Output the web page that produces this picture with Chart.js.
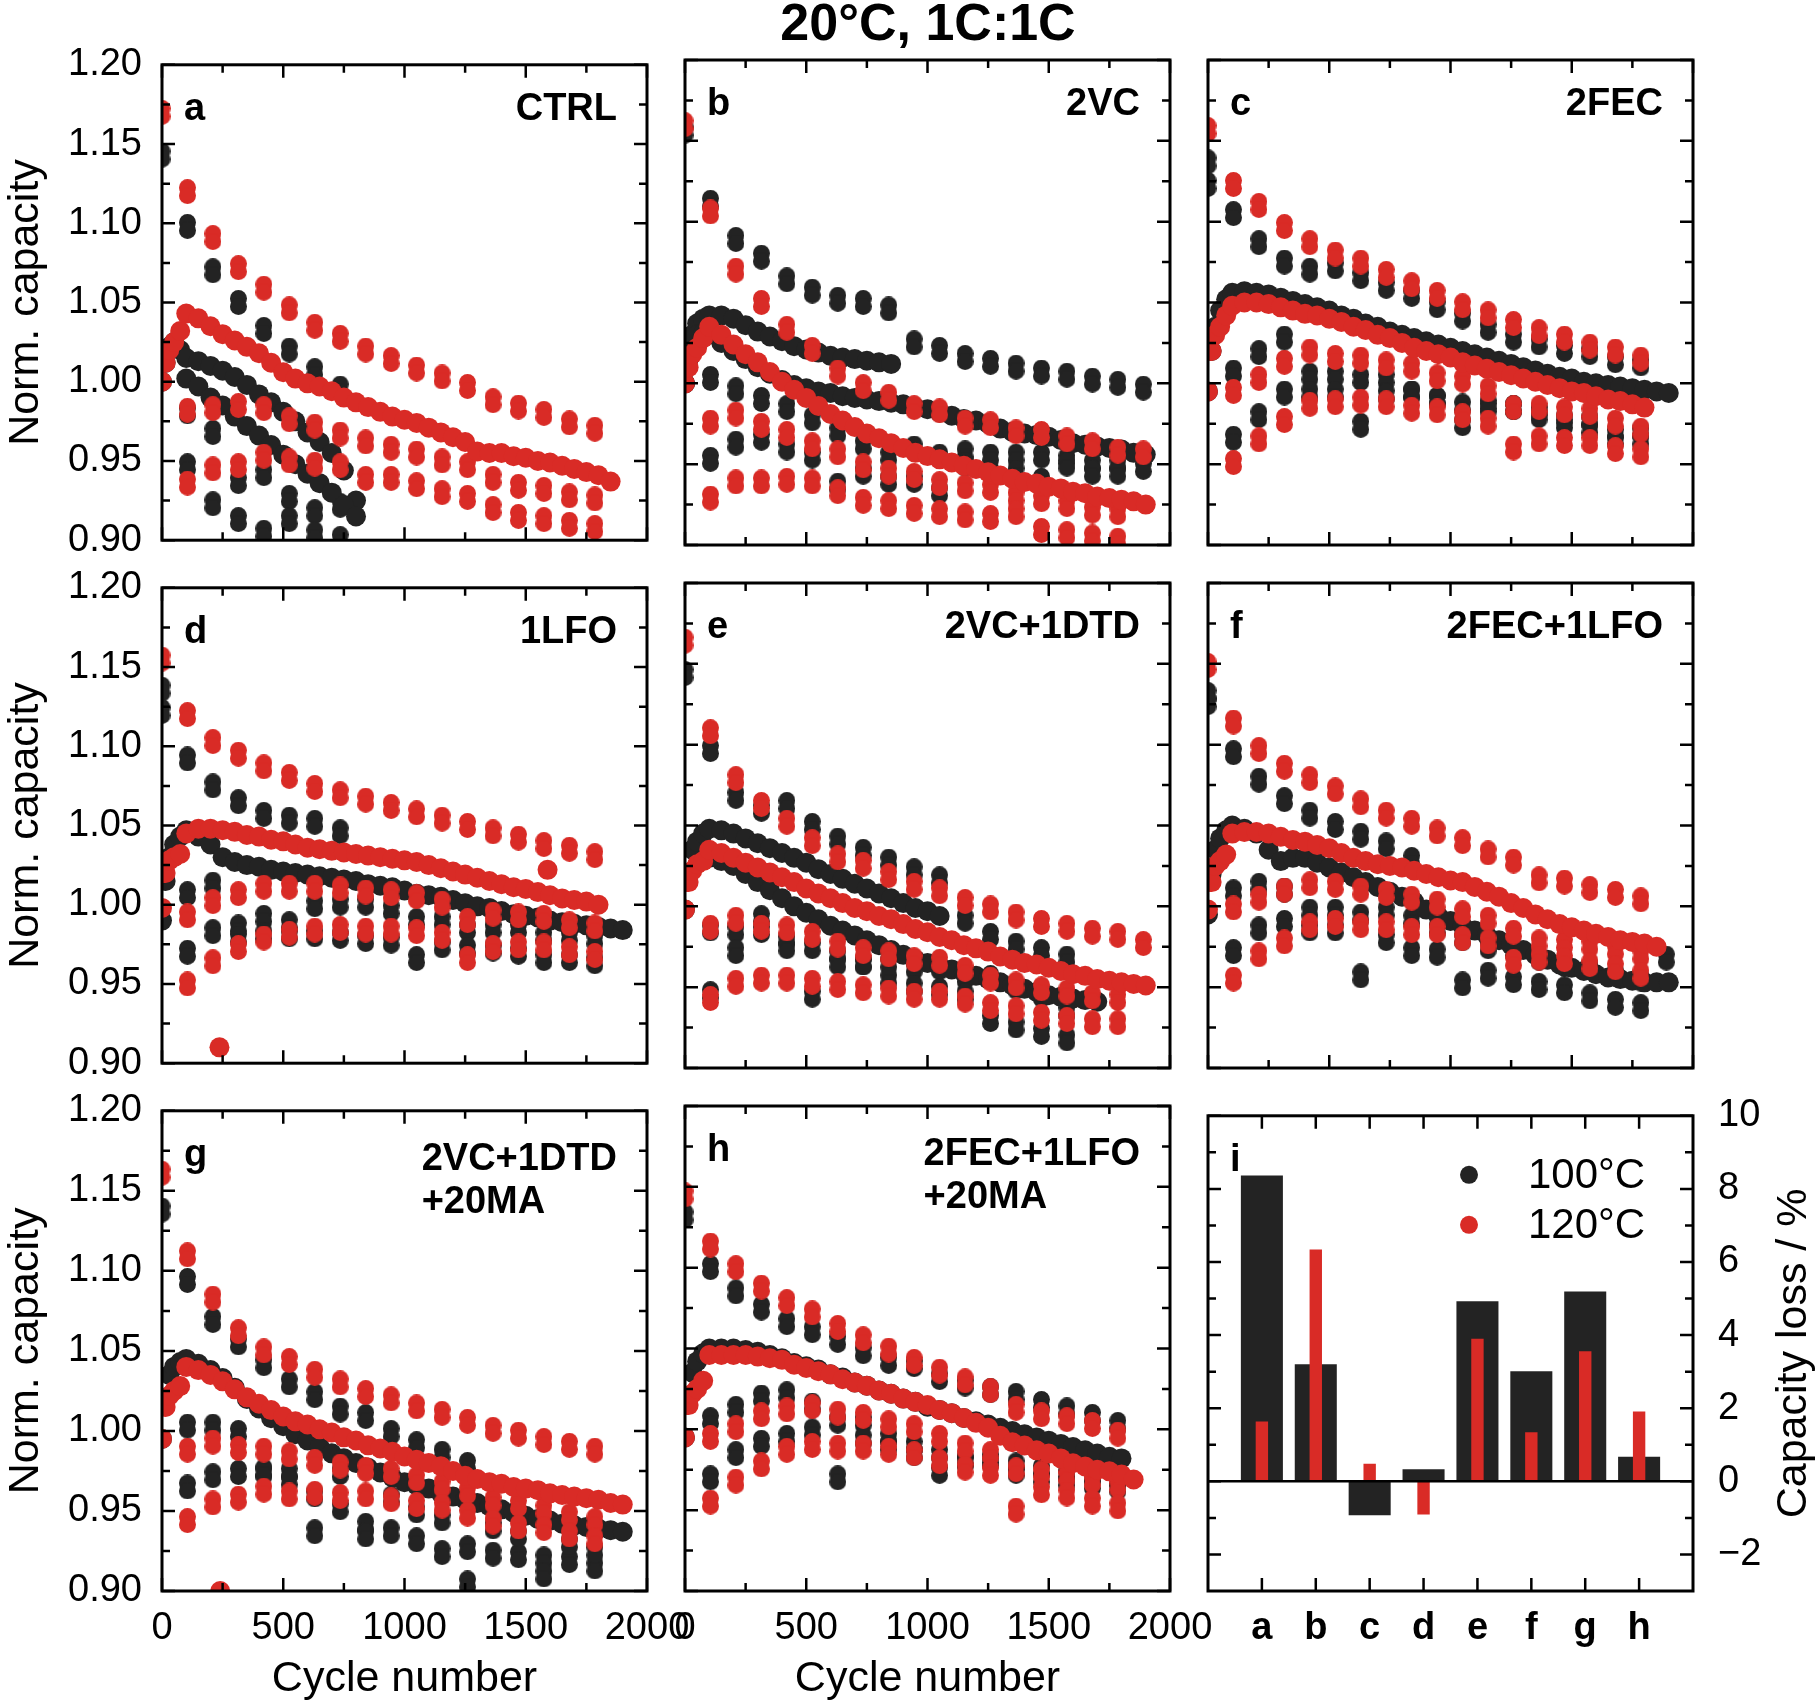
<!DOCTYPE html>
<html>
<head>
<meta charset="utf-8">
<script src="https://cdn.jsdelivr.net/npm/chart.js@4.4.0/dist/chart.umd.min.js"></script>
<style>
html, body { margin: 0; padding: 0; background: #fff; }
body { position: relative; width: 1820px; height: 1708px; overflow: hidden; font-family: 'Liberation Sans', Arial, sans-serif; }
#title { position: absolute; left: 928px; top: 0; transform: translateX(-50%); font-weight: bold; font-size: 52px; line-height: 44px; white-space: nowrap; }
canvas { position: absolute; }
</style>
</head>
<body>
<div id="title">20°C, 1C:1C</div>
<script>
// cycle numbers of the dense trend points and of the RPT check-ups
const TX = [0, 15, 30, 50, 75, 100, 150, 200, 250, 300, 350, 400, 450, 500, 550, 600, 650, 700, 750, 800, 850, 900, 950, 1000, 1050, 1100, 1150, 1200, 1250, 1300, 1350, 1400, 1450, 1500, 1550, 1600, 1650, 1700, 1750, 1800, 1850, 1900];
const RPT = [0, 105, 210, 315, 420, 525, 630, 735, 840, 945, 1050, 1155, 1260, 1365, 1470, 1575, 1680, 1785, 1890];

// a: CTRL   (K = 100°C, R = 120°C)
const aK_trend  = [1.000, 1.012, 1.022, 1.025, 1.020, 1.015, 1.013, 1.010, 1.007, 1.003, 0.998, 0.992, 0.987, 0.981, 0.975, 0.968, 0.962, 0.955, 0.944, 0.925];
const aK_trend2 = [null, null, null, null, null, 1.002, 0.997, 0.990, 0.985, 0.978, 0.972, 0.966, 0.960, 0.954, 0.948, 0.942, 0.936, 0.930, 0.922, 0.915];
const aK_top = [1.143, 1.098, 1.070, 1.050, 1.033, 1.020, 1.007, 0.996];
const aK_mid = [null, 0.981, 0.968, 0.937, 0.942, 0.927, 0.918, 0.922];
const aK_low = [null, 0.947, 0.923, 0.913, 0.905, 0.913, 0.904, 0.901];
const aR_trend = [1.000, 1.012, 1.020, 1.025, 1.032, 1.043, 1.040, 1.035, 1.030, 1.026, 1.022, 1.018, 1.012, 1.006, 1.002, 0.999, 0.997, 0.994, 0.990, 0.987, 0.984, 0.981, 0.978, 0.976, 0.974, 0.971, 0.968, 0.965, 0.962, 0.956, 0.955, 0.955, 0.953, 0.952, 0.950, 0.949, 0.947, 0.945, 0.943, 0.941, 0.937];
const aR_top = [1.170, 1.120, 1.091, 1.072, 1.059, 1.046, 1.035, 1.028, 1.020, 1.014, 1.008, 1.003, 0.997, 0.988, 0.984, 0.980, 0.974, 0.970];
const aR_mid = [null, 0.982, 0.983, 0.985, 0.983, 0.976, 0.972, 0.967, 0.962, 0.958, 0.955, 0.950, 0.947, 0.939, 0.934, 0.932, 0.928, 0.926];
const aR_low = [null, 0.936, 0.945, 0.947, 0.953, 0.950, 0.948, 0.947, 0.939, 0.939, 0.935, 0.930, 0.927, 0.920, 0.915, 0.913, 0.910, 0.908];

// b: 2VC
const bK_trend  = [1.000, 1.020, 1.030, 1.037, 1.040, 1.042, 1.042, 1.040, 1.036, 1.032, 1.029, 1.026, 1.023, 1.021, 1.019, 1.017, 1.016, 1.015, 1.014, 1.013, 1.012];
const bK_trend2 = [1.000, 1.015, 1.025, 1.030, 1.031, 1.030, 1.025, 1.020, 1.015, 1.010, 1.006, 1.002, 0.999, 0.997, 0.995, 0.994, 0.992, 0.991, 0.990, 0.989, 0.988, 0.987, 0.985, 0.984, 0.982, 0.980, 0.978, 0.977, 0.975, 0.972, 0.970, 0.969, 0.968, 0.967, 0.965, 0.963, 0.962, 0.961, 0.960, 0.959, 0.957, 0.956];
const bK_top = [1.156, 1.112, 1.089, 1.078, 1.064, 1.057, 1.052, 1.050, 1.046, 1.025, 1.021, 1.016, 1.013, 1.010, 1.007, 1.005, 1.002, 1.000, 0.997];
const bK_mid = [null, 1.003, 0.996, 0.990, 0.985, 0.978, 0.970, 0.962, 0.955, 0.960, 0.955, 0.957, 0.955, 0.955, 0.955, 0.953, 0.950, 0.950, 0.948];
const bK_low = [null, 0.953, 0.963, 0.966, 0.960, 0.955, 0.937, 0.945, 0.940, 0.940, 0.933, 0.950, 0.945, 0.945, 0.940, 0.950, 0.945, 0.945];
const bR_trend = [1.000, 1.010, 1.018, 1.022, 1.028, 1.035, 1.030, 1.024, 1.018, 1.013, 1.007, 1.001, 0.996, 0.991, 0.986, 0.981, 0.977, 0.973, 0.969, 0.966, 0.963, 0.960, 0.957, 0.955, 0.953, 0.951, 0.949, 0.947, 0.945, 0.943, 0.941, 0.939, 0.938, 0.936, 0.935, 0.933, 0.932, 0.930, 0.929, 0.928, 0.927, 0.925];
const bR_top = [1.160, 1.106, 1.070, 1.050, 1.034, 1.021, 1.007, 0.998, 0.992, 0.985, 0.983, 0.976, 0.975, 0.970, 0.969, 0.965, 0.962, 0.958, 0.957];
const bR_mid = [null, 0.976, 0.981, 0.974, 0.969, 0.962, 0.957, 0.949, 0.945, 0.943, 0.938, 0.936, 0.935, 0.930, 0.928, 0.925, 0.921, 0.920];
const bR_low = [null, 0.929, 0.939, 0.939, 0.940, 0.939, 0.933, 0.927, 0.925, 0.922, 0.920, 0.918, 0.917, 0.920, 0.909, 0.907, 0.905, 0.903];

// c: 2FEC
const cK_trend = [0.995, 1.020, 1.035, 1.045, 1.052, 1.056, 1.057, 1.056, 1.055, 1.053, 1.051, 1.049, 1.047, 1.045, 1.042, 1.040, 1.037, 1.035, 1.032, 1.030, 1.028, 1.026, 1.024, 1.022, 1.020, 1.018, 1.016, 1.014, 1.012, 1.010, 1.008, 1.006, 1.004, 1.003, 1.001, 1.000, 0.999, 0.998, 0.997, 0.996, 0.995, 0.994];
const cK_top = [1.137, 1.105, 1.087, 1.075, 1.070, 1.072, 1.066, 1.060, 1.055, 1.048, 1.041, 1.034, 1.028, 1.025, 1.021, 1.019, 1.014, 1.012];
const cK_mid = [1.123, 1.007, 1.019, 1.028, 1.005, 1.005, 1.003, 1.003, 0.994, 0.990, 0.986, 0.985, 0.985, 0.983, 0.978, 0.977, 0.969, 0.970];
const cK_low = [null, 0.966, 0.980, 0.994, 0.994, 0.994, 0.974, 0.993, 0.994, 0.990, 0.975, 0.987, 0.985, 0.980, 0.975, 0.972, 0.965, 0.965];
const cR_trend = [0.995, 1.020, 1.030, 1.035, 1.042, 1.048, 1.050, 1.050, 1.049, 1.047, 1.045, 1.043, 1.042, 1.040, 1.038, 1.035, 1.033, 1.030, 1.028, 1.025, 1.022, 1.020, 1.018, 1.016, 1.013, 1.011, 1.009, 1.007, 1.005, 1.003, 1.001, 0.999, 0.997, 0.995, 0.994, 0.992, 0.990, 0.989, 0.987, 0.985];
const cR_top = [1.157, 1.123, 1.110, 1.097, 1.087, 1.080, 1.075, 1.068, 1.061, 1.055, 1.048, 1.043, 1.037, 1.032, 1.028, 1.023, 1.020, 1.015];
const cR_mid = [null, 0.995, 1.003, 1.013, 1.020, 1.016, 1.015, 1.012, 1.010, 1.004, 1.002, 0.996, 0.985, 0.985, 0.983, 0.982, 0.976, 0.971];
const cR_low = [null, 0.951, 0.965, 0.977, 0.987, 0.988, 0.989, 0.988, 0.984, 0.983, 0.980, 0.976, 0.960, 0.965, 0.964, 0.964, 0.959, 0.957];

// d: 1LFO
const dK_trend = [0.990, 1.015, 1.030, 1.038, 1.043, 1.047, 1.043, 1.038, 1.030, 1.027, 1.025, 1.024, 1.022, 1.021, 1.020, 1.019, 1.018, 1.017, 1.016, 1.015, 1.013, 1.012, 1.011, 1.009, 1.007, 1.006, 1.005, 1.003, 1.001, 0.999, 0.998, 0.996, 0.994, 0.993, 0.992, 0.990, 0.989, 0.988, 0.987, 0.986, 0.985, 0.984];
const dK_top = [1.136, 1.092, 1.075, 1.065, 1.057, 1.054, 1.052, 1.046];
const dK_mid = [1.122, 1.007, 1.013, 0.986, 0.992, 0.988, 1.000, 1.001, 1.001, 0.997, 0.990, 0.990, 0.985, 0.985, 0.985, 0.980, 0.980, 0.978];
const dK_low = [null, 0.970, 0.983, 0.979, 0.981, 0.981, 0.981, 0.980, 0.978, 0.977, 0.966, 0.974, 0.972, 0.972, 0.970, 0.966, 0.966, 0.964];
const dR_trend = [0.998, 1.020, 1.028, 1.030, 1.032, 1.045, 1.048, 1.048, 1.047, 1.046, 1.044, 1.043, 1.041, 1.040, 1.038, 1.036, 1.035, 1.034, 1.033, 1.032, 1.031, 1.030, 1.029, 1.028, 1.027, 1.025, 1.023, 1.021, 1.019, 1.017, 1.015, 1.013, 1.011, 1.010, 1.008, 1.006, 1.004, 1.003, 1.002, 1.000];
const dR_top = [1.155, 1.120, 1.103, 1.095, 1.087, 1.081, 1.074, 1.070, 1.066, 1.062, 1.058, 1.054, 1.050, 1.046, 1.042, 1.038, 1.035, 1.031];
const dR_mid = [null, 0.993, 1.002, 1.007, 1.011, 1.011, 1.011, 1.010, 1.008, 1.007, 1.005, 1.001, 0.990, 0.994, 0.993, 0.992, 0.988, 0.986];
const dR_low = [null, 0.950, 0.964, 0.973, 0.979, 0.982, 0.984, 0.985, 0.984, 0.984, 0.983, 0.980, 0.966, 0.973, 0.974, 0.974, 0.971, 0.968];
const dR_outX = [237, 1590];
const dR_outY = [0.910, 1.022];

// e: 2VC+1DTD
const eK_trend  = [0.998, 1.020, 1.035, 1.040, 1.045, 1.048, 1.047, 1.045, 1.042, 1.039, 1.036, 1.033, 1.030, 1.027, 1.023, 1.020, 1.017, 1.014, 1.011, 1.008, 1.005, 1.002, 0.999, 0.997, 0.994];
const eK_trend2 = [null, null, null, null, null, 1.030, 1.028, 1.025, 1.020, 1.015, 1.010, 1.005, 1.000, 0.996, 0.992, 0.988, 0.985, 0.982, 0.979, 0.976, 0.973, 0.970, 0.967, 0.965, 0.963, 0.961, 0.959, 0.957, 0.955, 0.953, 0.951, 0.949, 0.947, 0.945, 0.944, 0.943, 0.942, 0.941];
const eK_top = [1.144, 1.097, 1.068, 1.060, 1.063, 1.050, 1.041, 1.034, 1.028, 1.022, 1.017, 0.992, 0.982, 0.976, 0.972, 0.968];
const eK_mid = [null, 0.986, 0.985, 0.993, 0.979, 0.975, 0.970, 0.965, 0.965, 0.962, 0.962, 0.956, 0.956, 0.950, 0.945, 0.935];
const eK_low = [null, 0.946, 0.972, 0.985, 0.975, 0.945, 0.965, 0.965, 0.955, 0.950, 0.948, 0.945, 0.930, 0.926, 0.922, 0.918];
const eR_trend = [0.998, 1.015, 1.022, 1.026, 1.028, 1.035, 1.033, 1.030, 1.027, 1.024, 1.021, 1.018, 1.015, 1.011, 1.008, 1.005, 1.002, 0.999, 0.997, 0.994, 0.992, 0.989, 0.986, 0.984, 0.981, 0.979, 0.976, 0.974, 0.972, 0.969, 0.967, 0.965, 0.964, 0.962, 0.960, 0.958, 0.957, 0.955, 0.954, 0.953, 0.952, 0.951];
const eR_top = [1.164, 1.108, 1.079, 1.063, 1.052, 1.040, 1.030, 1.026, 1.019, 1.013, 1.009, 1.003, 0.999, 0.994, 0.990, 0.987, 0.984, 0.982, 0.977];
const eR_mid = [null, 0.987, 0.992, 0.987, 0.986, 0.982, 0.976, 0.972, 0.970, 0.967, 0.966, 0.961, 0.955, 0.952, 0.949, 0.947, 0.944, 0.943];
const eR_low = [null, 0.943, 0.953, 0.955, 0.955, 0.953, 0.951, 0.949, 0.947, 0.945, 0.945, 0.942, 0.938, 0.936, 0.932, 0.930, 0.928, 0.928];

// f: 2FEC+1LFO
const fK_trend = [0.995, 1.020, 1.035, 1.042, 1.047, 1.050, 1.048, 1.045, 1.035, 1.028, 1.030, 1.030, 1.027, 1.024, 1.021, 1.018, 1.015, 1.012, 1.009, 1.006, 1.003, 0.998, 0.994, 0.991, 0.988, 0.985, 0.982, 0.979, 0.976, 0.973, 0.970, 0.967, 0.964, 0.962, 0.960, 0.958, 0.956, 0.955, 0.954, 0.953, 0.953, 0.953];
const fK_top = [1.131, 1.095, 1.078, 1.066, 1.057, 1.050, 1.044, 1.038, 1.029];
const fK_mid = [1.126, 1.009, 1.013, 1.010, 0.997, 0.997, 0.994, 0.997, 0.992, 0.986, 0.980, 0.975, 0.972, 0.968, 0.964, 0.962, 0.958, 0.955, 0.968];
const fK_low = [null, 0.972, 0.986, 0.990, 0.986, 0.986, 0.957, 0.980, 0.972, 0.971, 0.952, 0.958, 0.954, 0.951, 0.949, 0.944, 0.940, 0.938];
const fR_trend = [0.998, 1.015, 1.025, 1.028, 1.032, 1.045, 1.046, 1.046, 1.045, 1.043, 1.041, 1.040, 1.038, 1.036, 1.033, 1.030, 1.028, 1.026, 1.025, 1.024, 1.022, 1.020, 1.018, 1.016, 1.015, 1.012, 1.009, 1.006, 1.002, 0.999, 0.995, 0.992, 0.989, 0.987, 0.985, 0.983, 0.981, 0.979, 0.978, 0.977, 0.975];
const fR_top = [1.149, 1.114, 1.097, 1.086, 1.079, 1.072, 1.064, 1.057, 1.052, 1.046, 1.040, 1.033, 1.028, 1.017, 1.015, 1.011, 1.008, 1.004];
const fR_mid = [null, 0.999, 1.005, 1.010, 1.014, 1.013, 1.010, 1.008, 1.005, 1.002, 0.996, 0.992, 0.984, 0.978, 0.977, 0.976, 0.973, 0.970];
const fR_low = [null, 0.955, 0.970, 0.978, 0.988, 0.990, 0.988, 0.988, 0.985, 0.985, 0.980, 0.978, 0.966, 0.968, 0.967, 0.964, 0.962, 0.958];

// g: 2VC+1DTD+20MA
const gK_trend = [0.995, 1.020, 1.035, 1.040, 1.043, 1.045, 1.042, 1.038, 1.033, 1.027, 1.020, 1.014, 1.008, 1.003, 0.998, 0.994, 0.990, 0.986, 0.983, 0.980, 0.977, 0.974, 0.971, 0.968, 0.966, 0.964, 0.961, 0.959, 0.957, 0.955, 0.953, 0.951, 0.949, 0.947, 0.945, 0.944, 0.942, 0.941, 0.940, 0.939, 0.938, 0.937];
const gK_top = [1.138, 1.094, 1.069, 1.055, 1.042, 1.030, 1.022, 1.013, 1.009, 0.999, 0.992, 0.986, 0.979];
const gK_mid = [null, 1.003, 1.003, 0.999, 0.974, 0.969, 0.960, 0.952, 0.941, 0.937, 0.932, 0.924, 0.927, 0.923, 0.922, 0.920, 0.919, 0.915];
const gK_low = [null, 0.965, 0.972, 0.974, 0.975, 0.974, 0.937, 0.974, 0.935, 0.958, 0.950, 0.945, 0.905, 0.940, 0.935, 0.910, 0.930, 0.925];
const gR_trend = [0.995, 1.015, 1.022, 1.025, 1.028, 1.040, 1.038, 1.035, 1.031, 1.026, 1.021, 1.017, 1.013, 1.009, 1.006, 1.004, 1.001, 0.999, 0.996, 0.994, 0.991, 0.989, 0.987, 0.984, 0.982, 0.980, 0.978, 0.975, 0.972, 0.970, 0.968, 0.967, 0.965, 0.964, 0.963, 0.961, 0.960, 0.959, 0.958, 0.957, 0.955, 0.954];
const gR_top = [1.161, 1.110, 1.083, 1.062, 1.050, 1.044, 1.036, 1.030, 1.024, 1.020, 1.015, 1.011, 1.006, 1.001, 0.998, 0.994, 0.991, 0.988];
const gR_mid = [null, 0.988, 0.993, 0.989, 0.988, 0.985, 0.981, 0.978, 0.976, 0.974, 0.970, 0.966, 0.962, 0.956, 0.954, 0.951, 0.947, 0.944];
const gR_low = [null, 0.944, 0.955, 0.958, 0.963, 0.960, 0.961, 0.959, 0.960, 0.957, 0.954, 0.953, 0.948, 0.943, 0.940, 0.939, 0.935, 0.932];
const gR_outX = [240];
const gR_outY = [0.900];

// h: 2FEC+1LFO+20MA
const hK_trend = [0.995, 1.020, 1.035, 1.042, 1.047, 1.050, 1.050, 1.050, 1.049, 1.048, 1.046, 1.044, 1.041, 1.039, 1.037, 1.034, 1.032, 1.029, 1.027, 1.024, 1.022, 1.019, 1.017, 1.014, 1.012, 1.010, 1.007, 1.005, 1.003, 1.001, 0.999, 0.997, 0.995, 0.993, 0.991, 0.989, 0.987, 0.985, 0.983, 0.982];
const hK_top = [1.132, 1.100, 1.085, 1.075, 1.066, 1.061, 1.055, 1.048, 1.042, 1.040, 1.032, 1.028, 1.024, 1.021, 1.016, 1.012, 1.008, 1.003];
const hK_mid = [null, 1.006, 1.013, 1.020, 1.022, 1.015, 1.005, 1.005, 0.995, 0.990, 0.985, 0.980, 0.980, 0.978, 0.975, 0.972, 0.970, 0.968];
const hK_low = [null, 0.970, 0.985, 0.992, 0.995, 0.999, 0.970, 0.994, 0.990, 0.985, 0.974, 0.981, 0.982, 0.974, 0.970, 0.968, 0.966, 0.964];
const hR_trend = [0.995, 1.015, 1.022, 1.025, 1.030, 1.046, 1.046, 1.046, 1.046, 1.045, 1.044, 1.043, 1.040, 1.038, 1.036, 1.034, 1.031, 1.029, 1.027, 1.024, 1.022, 1.019, 1.017, 1.015, 1.012, 1.010, 1.007, 1.004, 1.001, 0.996, 0.992, 0.990, 0.987, 0.985, 0.982, 0.979, 0.977, 0.975, 0.974, 0.972, 0.969];
const hR_top = [1.145, 1.114, 1.100, 1.088, 1.079, 1.072, 1.063, 1.056, 1.049, 1.042, 1.036, 1.030, 1.024, 1.013, 1.009, 1.006, 1.003, 0.997];
const hR_mid = [null, 0.995, 1.001, 1.009, 1.012, 1.014, 1.010, 1.008, 1.004, 1.001, 0.995, 0.989, 0.985, 0.975, 0.973, 0.971, 0.968, 0.965];
const hR_low = [null, 0.955, 0.968, 0.978, 0.987, 0.990, 0.989, 0.989, 0.987, 0.985, 0.980, 0.976, 0.974, 0.950, 0.962, 0.960, 0.955, 0.952];

// i: capacity loss bars
const barCats = ['a', 'b', 'c', 'd', 'e', 'f', 'g', 'h'];
const loss100 = [8.37, 3.20, -0.93, 0.33, 4.93, 3.01, 5.19, 0.67];
const loss120 = [1.64, 6.34, 0.48, -0.91, 3.90, 1.34, 3.56, 1.91];
const lossTicks = [-2, 0, 2, 4, 6, 8, 10];
const capTicks = [0.90, 0.95, 1.00, 1.05, 1.10, 1.15, 1.20];

const BLACK = '#232323';
const RED = '#d92b26';
const FONT = "'Liberation Sans', Arial, sans-serif";
Chart.defaults.font.family = FONT;
Chart.defaults.color = '#000';

const PLOT_X = [162, 685, 1208];
const PLOT_Y = [60, 583, 1106];
const PLOT_S = 485;

function pts(xs, ys) {
    const out = [];
    ys.forEach((y, i) => { if (y != null) out.push({ x: xs[i], y: y }); });
    return out;
}

function trendPoints(trends, extra) {
    let p = [];
    trends.forEach(t => { p = p.concat(pts(TX, t)); });
    if (extra) p = p.concat(pts(extra[0], extra[1]));
    return p;
}

function rptPoints(rows) {
    let p = [];
    rows.forEach(r => { p = p.concat(pts(RPT, r)); });
    return p;
}

// each check-up shows as two overlapping dots, drawn as one capsule marker
function capsule(color) {
    const c = document.createElement('canvas');
    c.width = 17;
    c.height = 25;
    const g = c.getContext('2d');
    g.fillStyle = color;
    g.beginPath();
    g.arc(8.5, 8.5, 8.5, 0, Math.PI * 2);
    g.fill();
    g.beginPath();
    g.arc(8.5, 16.5, 8.5, 0, Math.PI * 2);
    g.fill();
    return c;
}
const RED_CAP = capsule(RED);
const BLACK_CAP = capsule(BLACK);

function boxFor(col, row) {
    const L = col === 0 ? 162 : 30;
    const R = col === 2 ? 128 : 60;
    const T = 30;
    const B = row === 2 ? 117 : 30;
    return { x: PLOT_X[col] - L, y: PLOT_Y[row] - T, L: L, R: R, T: T, B: B, w: L + PLOT_S + R, h: T + PLOT_S + B };
}

function makeCanvas(b) {
    const c = document.createElement('canvas');
    c.width = b.w;
    c.height = b.h;
    c.style.left = b.x + 'px';
    c.style.top = b.y + 'px';
    c.style.width = b.w + 'px';
    c.style.height = b.h + 'px';
    document.body.appendChild(c);
    return c;
}

function tickPixels(scale) {
    if (scale.type === 'category') {
        const labels = scale.getLabels();
        const major = [];
        scale.ticks.forEach((t, i) => { if (labels[t.value]) major.push(scale.getPixelForTick(i)); });
        return { major: major, minor: [] };
    }
    const v = scale.ticks.map(t => t.value);
    const minor = [];
    for (let i = 0; i < v.length - 1; i++) minor.push(scale.getPixelForValue((v[i] + v[i + 1]) / 2));
    return { major: v.map(x => scale.getPixelForValue(x)), minor: minor };
}

// frame, inward ticks and the texts inside each panel
const panelDeco = {
    id: 'panelDeco',
    afterDatasetsDraw(chart, args, o) {
        const ctx = chart.ctx;
        const a = chart.chartArea;
        const xs = tickPixels(chart.scales.x);
        const ys = tickPixels(chart.scales.y);
        ctx.save();
        ctx.strokeStyle = '#000';
        if (o.zeroLine) {
            const y0 = chart.scales.y.getPixelForValue(0);
            ctx.lineWidth = 2.5;
            ctx.beginPath();
            ctx.moveTo(a.left, y0);
            ctx.lineTo(a.right, y0);
            ctx.stroke();
        }
        ctx.lineWidth = 2.5;
        ctx.beginPath();
        const xTick = (p, len) => {
            ctx.moveTo(p, a.bottom); ctx.lineTo(p, a.bottom - len);
            ctx.moveTo(p, a.top); ctx.lineTo(p, a.top + len);
        };
        const yTick = (p, len) => {
            ctx.moveTo(a.left, p); ctx.lineTo(a.left + len, p);
            ctx.moveTo(a.right, p); ctx.lineTo(a.right - len, p);
        };
        xs.major.forEach(p => xTick(p, 13));
        xs.minor.forEach(p => xTick(p, 8));
        ys.major.forEach(p => yTick(p, 13));
        ys.minor.forEach(p => yTick(p, 8));
        ctx.stroke();
        ctx.lineWidth = 3;
        ctx.strokeRect(a.left, a.top, a.right - a.left, a.bottom - a.top);

        ctx.fillStyle = '#000';
        ctx.textAlign = 'left';
        ctx.textBaseline = 'alphabetic';
        ctx.font = 'bold 38px ' + FONT;
        ctx.fillText(o.letter, a.left + 22, a.top + 55);
        if (o.lines) {
            const w = Math.max.apply(null, o.lines.map(s => ctx.measureText(s).width));
            const y0 = o.lines.length > 1 ? 59 : 55;
            o.lines.forEach((s, i) => ctx.fillText(s, a.right - 30 - w, a.top + y0 + i * 43));
        }
        if (o.legend) {
            ctx.font = '42px ' + FONT;
            ctx.textBaseline = 'middle';
            o.legend.forEach((it, i) => {
                const cy = a.top + 59 + i * 50;
                ctx.fillStyle = it.color;
                ctx.beginPath();
                ctx.arc(a.right - 224, cy, 9, 0, Math.PI * 2);
                ctx.fill();
                ctx.fillStyle = '#000';
                ctx.fillText(it.text, a.right - 165, cy + 2);
            });
        }
        if (o.rightTitle) {
            ctx.font = '43px ' + FONT;
            ctx.textAlign = 'center';
            ctx.textBaseline = 'middle';
            ctx.translate(a.right + 101, (a.top + a.bottom) / 2);
            ctx.rotate(-Math.PI / 2);
            ctx.fillText(o.rightTitle, 0, 0);
        }
        ctx.restore();
    }
};

const panels = [
    { letter: 'a', lines: ['CTRL'], col: 0, row: 0, k: [aK_trend, aK_trend2], kr: [aK_top, aK_mid, aK_low], r: [aR_trend], rr: [aR_top, aR_mid, aR_low] },
    { letter: 'b', lines: ['2VC'], col: 1, row: 0, k: [bK_trend, bK_trend2], kr: [bK_top, bK_mid, bK_low], r: [bR_trend], rr: [bR_top, bR_mid, bR_low] },
    { letter: 'c', lines: ['2FEC'], col: 2, row: 0, k: [cK_trend], kr: [cK_top, cK_mid, cK_low], r: [cR_trend], rr: [cR_top, cR_mid, cR_low] },
    { letter: 'd', lines: ['1LFO'], col: 0, row: 1, k: [dK_trend], kr: [dK_top, dK_mid, dK_low], r: [dR_trend], rr: [dR_top, dR_mid, dR_low], rOut: [dR_outX, dR_outY] },
    { letter: 'e', lines: ['2VC+1DTD'], col: 1, row: 1, k: [eK_trend, eK_trend2], kr: [eK_top, eK_mid, eK_low], r: [eR_trend], rr: [eR_top, eR_mid, eR_low] },
    { letter: 'f', lines: ['2FEC+1LFO'], col: 2, row: 1, k: [fK_trend], kr: [fK_top, fK_mid, fK_low], r: [fR_trend], rr: [fR_top, fR_mid, fR_low] },
    { letter: 'g', lines: ['2VC+1DTD', '+20MA'], col: 0, row: 2, k: [gK_trend], kr: [gK_top, gK_mid, gK_low], r: [gR_trend], rr: [gR_top, gR_mid, gR_low], rOut: [gR_outX, gR_outY] },
    { letter: 'h', lines: ['2FEC+1LFO', '+20MA'], col: 1, row: 2, k: [hK_trend], kr: [hK_top, hK_mid, hK_low], r: [hR_trend], rr: [hR_top, hR_mid, hR_low] }
];

function dotSet(label, color, data, order, style, radius) {
    return {
        label: label, data: data, order: order, clip: 0,
        backgroundColor: color, pointBackgroundColor: color,
        borderWidth: 0, pointBorderWidth: 0, pointRadius: radius, pointHoverRadius: radius,
        pointStyle: style
    };
}

panels.forEach(p => {
    const b = boxFor(p.col, p.row);
    const showX = p.row === 2;
    const showY = p.col === 0;
    new Chart(makeCanvas(b), {
        type: 'scatter',
        data: {
            datasets: [
                dotSet('120°C', RED, trendPoints(p.r, p.rOut), 0, 'circle', 10),
                dotSet('120°C RPT', RED, rptPoints(p.rr), 0, RED_CAP, 9),
                dotSet('100°C', BLACK, trendPoints(p.k), 1, 'circle', 10),
                dotSet('100°C RPT', BLACK, rptPoints(p.kr), 1, BLACK_CAP, 9)
            ]
        },
        options: {
            responsive: false,
            animation: false,
            events: [],
            layout: { autoPadding: false, padding: { left: 0, top: b.T, right: b.R, bottom: 0 } },
            plugins: {
                legend: { display: false },
                tooltip: { enabled: false },
                panelDeco: { letter: p.letter, lines: p.lines }
            },
            scales: {
                x: {
                    type: 'linear', min: 0, max: 2000,
                    grid: { display: false }, border: { display: false },
                    ticks: { display: showX, stepSize: 500, autoSkip: false, maxRotation: 0, padding: 7, font: { size: 38 }, callback: v => String(v) },
                    title: { display: showX, text: 'Cycle number', font: { size: 43 }, padding: { top: 0, bottom: 3 } },
                    afterFit: s => { s.height = b.B; }
                },
                y: {
                    type: 'linear', min: 0.9, max: 1.2,
                    grid: { display: false }, border: { display: false },
                    afterBuildTicks: s => { s.ticks = capTicks.map(v => ({ value: v })); },
                    ticks: { display: showY, autoSkip: false, padding: 12, font: { size: 38 }, callback: v => Number(v).toFixed(2) },
                    title: { display: showY, text: 'Norm. capacity', font: { size: 43 }, padding: { top: 0, bottom: 0 } },
                    afterFit: s => { s.width = b.L; }
                }
            }
        },
        plugins: [panelDeco]
    });
});

// panel i: capacity loss bar chart
(function () {
    const b = boxFor(2, 2);
    new Chart(makeCanvas(b), {
        type: 'bar',
        data: {
            labels: [''].concat(barCats, ['']),
            datasets: [
                { label: '120°C', data: [null].concat(loss120, [null]), backgroundColor: RED, barPercentage: 0.23, categoryPercentage: 1, grouped: false, order: 0 },
                { label: '100°C', data: [null].concat(loss100, [null]), backgroundColor: BLACK, barPercentage: 0.78, categoryPercentage: 1, grouped: false, order: 1 }
            ]
        },
        options: {
            responsive: false,
            animation: false,
            events: [],
            layout: { autoPadding: false, padding: { left: b.L, top: b.T, right: 0, bottom: 0 } },
            plugins: {
                legend: { display: false },
                tooltip: { enabled: false },
                panelDeco: {
                    letter: 'i', zeroLine: true, rightTitle: 'Capacity loss / %',
                    legend: [{ color: BLACK, text: '100°C' }, { color: RED, text: '120°C' }]
                }
            },
            scales: {
                x: {
                    type: 'category', offset: false,
                    grid: { display: false }, border: { display: false },
                    ticks: { autoSkip: false, maxRotation: 0, padding: 7, font: { size: 38, weight: 'bold' } },
                    afterFit: s => { s.height = b.B; }
                },
                y: {
                    type: 'linear', position: 'right', min: -3, max: 10,
                    grid: { display: false }, border: { display: false },
                    afterBuildTicks: s => { s.ticks = lossTicks.map(v => ({ value: v })); },
                    ticks: { autoSkip: false, padding: 17, font: { size: 38 }, callback: v => (v < 0 ? '\u2212' + Math.abs(v) : String(v)) },
                    afterFit: s => { s.width = b.R; }
                }
            }
        },
        plugins: [panelDeco]
    });
})();
</script>
</body>
</html>
